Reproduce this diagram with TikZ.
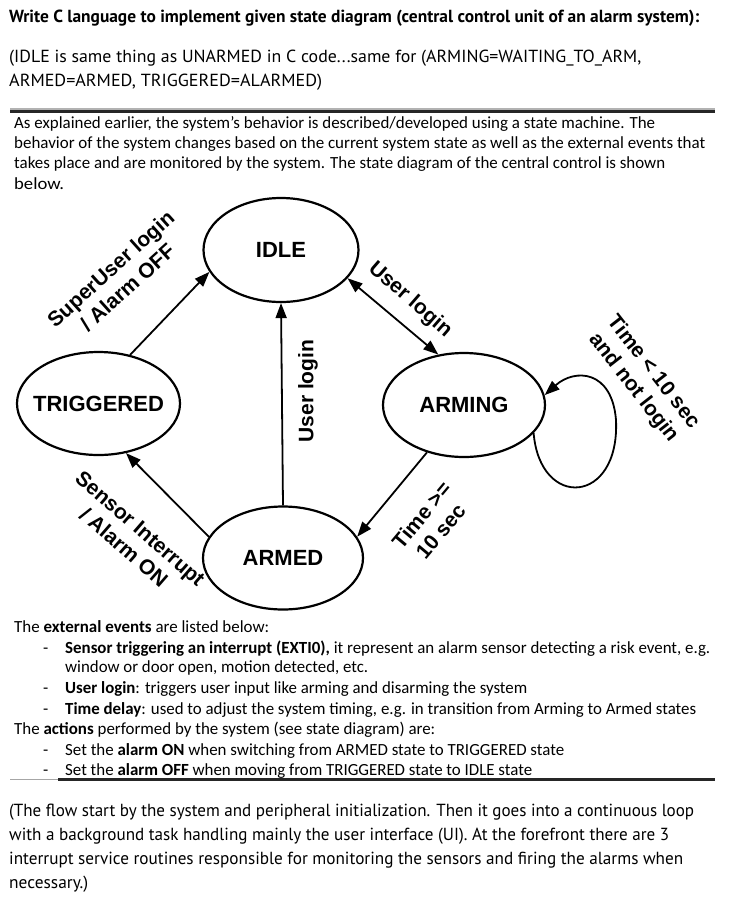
\documentclass[tikz,border=0pt]{standalone}
\usepackage{fontspec}
\usepackage{graphicx}
\setmainfont{Carlito}
\newfontfamily\hdrfont{PT Sans}
\newfontfamily\docfont{Carlito}
\newfontfamily\diafont{Liberation Sans}
\usetikzlibrary{shapes.geometric,arrows.meta}
\newcommand\fitto[2]{\resizebox{#1pt}{\height}{#2}}
\newcommand\stlab[1]{\makebox[0pt]{#1}}
\begin{document}
\begin{tikzpicture}[x=1pt,y=-1pt,
  state/.style={ellipse, draw, line width=2.2pt, minimum width=160pt, minimum height=103pt, inner sep=0pt,
    font=\diafont\bfseries\fontsize{22}{26}\selectfont},
  tip/.style={-{Triangle[length=15pt,width=11pt]}},
  trans/.style={line width=1.8pt, tip},
  elabel/.style={font=\diafont\bfseries\fontsize{21}{25}\selectfont, align=center, inner sep=0pt},
  hdr/.style={anchor=base west, inner sep=0pt, font=\hdrfont\fontsize{17.5}{20}\selectfont},
  hdrb/.style={hdr, font=\hdrfont\bfseries\fontsize{17.5}{20}\selectfont},
  doc/.style={anchor=base west, inner sep=0pt, font=\docfont\fontsize{17}{20}\selectfont},
]
\useasboundingbox[fill=white] (0,0) rectangle (742,906);

% header
\node[hdrb] (h1) at (9,22) {\fitto{690}{Write C language to implement given state diagram (central control unit of an alarm system):}};
\node[hdr] (h2) at (9,62) {\fitto{632}{(IDLE is same thing as UNARMED in C code...same for (ARMING=WAITING\_TO\_ARM,}};
\node[hdr] (h3) at (9,86) {\fitto{313}{ARMED=ARMED, TRIGGERED=ALARMED)}};

% top rule
\fill[black!30] (10,107.5) rectangle (715,109.5);
\fill[black!85] (10,109.5) rectangle (715,112.5);

% box text
\node[doc] (b1) at (14,128) {\fitto{641}{As explained earlier, the system’s behavior is described/developed using a state machine. The}};
\node[doc] (b2) at (14,148) {\fitto{691}{behavior of the system changes based on the current system state as well as the external events that}};
\node[doc] (b3) at (14,168) {\fitto{651}{takes place and are monitored by the system. The state diagram of the central control is shown}};
\node[doc] (b4) at (14,189) {\fitto{50}{below.}};

% states
\node[state, minimum width=155pt, minimum height=104pt] (idle) at (281,250) {\stlab{IDLE}};
\node[state, minimum width=163pt] (trig) at (98.5,403.5) {\stlab{TRIGGERED}};
\node[state, minimum width=162pt, minimum height=104pt] (arming) at (464,405) {\stlab{ARMING}};
\node[state] (armed) at (283,558) {\stlab{ARMED}};

% transitions
\draw[trans] (trig.57) -- (idle.197);
\draw[trans] (armed.north) -- (idle.south);
\draw[line width=1.8pt, {Triangle[length=15pt,width=11pt]}-{Triangle[length=15pt,width=11pt]}] (idle.337) -- (arming.117);
\draw[trans] (arming.232) -- (armed.16);
\draw[trans] (armed.164) -- (trig.299);
\draw[trans] (arming.338) .. controls (540,510) and (620,505) .. (616,420) .. controls (612,370) and (575,368) .. (arming.7);

% transition labels
\node[elabel, rotate=42] (lsu) at (119,278) {SuperUser login\\/ Alarm OFF};
\node[elabel, rotate=90] (lul1) at (308,391) {User login};
\node[elabel, rotate=-41] (lul2) at (410,300) {User login};
\node[elabel, rotate=-52] (ltime) at (643,380) {Time < 10 sec\\and not login};
\node[elabel, rotate=-41] (lsens) at (132,538) {Sensor Interrupt\\/ Alarm ON};
\node[elabel, rotate=50] (ltime2) at (431,523) {Time >=\\10 sec};

% events and actions
\node[doc] (e0) at (14,632) {\fitto{255}{The \textbf{external events} are listed below:}};
\node[doc] (d1) at (43,653) {-};
\node[doc] (e1) at (65,653) {\fitto{645}{\textbf{Sensor triggering an interrupt (EXTI0),} it represent an alarm sensor detecting a risk event, e.g.}};
\node[doc] (e2) at (65,672) {\fitto{303}{window or door open, motion detected, etc.}};
\node[doc] (d3) at (43,693) {-};
\node[doc] (e3) at (65,693) {\fitto{462}{\textbf{User login}: triggers user input like arming and disarming the system}};
\node[doc] (d4) at (43,714) {-};
\node[doc] (e4) at (65,714) {\fitto{631}{\textbf{Time delay}: used to adjust the system timing, e.g. in transition from Arming to Armed states}};
\node[doc] (a0) at (14,734) {\fitto{421}{The \textbf{actions} performed by the system (see state diagram) are:}};
\node[doc] (d5) at (43,755) {-};
\node[doc] (a1) at (65,755) {\fitto{499}{Set the \textbf{alarm ON} when switching from ARMED state to TRIGGERED state}};
\node[doc] (d6) at (43,775) {-};
\node[doc] (a2) at (65,775) {\fitto{467}{Set the \textbf{alarm OFF} when moving from TRIGGERED state to IDLE state}};

% bottom rule
\draw[black!35, line width=1pt] (10,779) -- (58,779);
\fill[black!85] (58,777.5) rectangle (715,780.5);

% final paragraph
\node[hdr] (f1) at (9,816) {\fitto{685}{(The flow start by the system and peripheral initialization. Then it goes into a continuous loop}};
\node[hdr] (f2) at (9,840) {\fitto{660}{with a background task handling mainly the user interface (UI). At the forefront there are 3}};
\node[hdr] (f3) at (9,864) {\fitto{674}{interrupt service routines responsible for monitoring the sensors and firing the alarms when}};
\node[hdr] (f4) at (9,888) {\fitto{79}{necessary.)}};
\end{tikzpicture}
\end{document}
